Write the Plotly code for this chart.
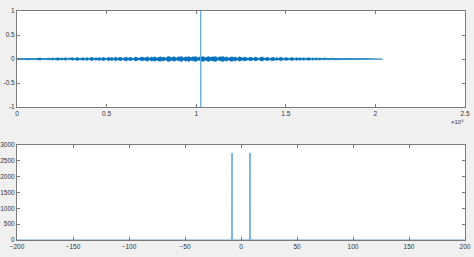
import plotly.graph_objects as go

# ---- top panel: time-domain signal, drawn as its envelope (dense samples) ----
env_step = 1000  # samples between envelope readings
env_vals = [
    0.008, 0.01, 0.008, 0.012, 0.008, 0.01, 0.015, 0.008, 0.01, 0.012,
    0.008, 0.015, 0.01, 0.02, 0.008, 0.012, 0.02, 0.01, 0.015, 0.01,
    0.022, 0.01, 0.012, 0.025, 0.01, 0.02, 0.01, 0.028, 0.012, 0.015,
    0.01, 0.025, 0.012, 0.02, 0.03, 0.01, 0.015, 0.025, 0.01, 0.03,
    0.012, 0.02, 0.035, 0.012, 0.025, 0.015, 0.03, 0.012, 0.035, 0.02,
    0.012, 0.035, 0.02, 0.03, 0.012, 0.04, 0.015, 0.03, 0.035, 0.012,
    0.03, 0.04, 0.015, 0.035, 0.025, 0.012, 0.04, 0.03, 0.015, 0.035,
    0.04, 0.02, 0.035, 0.045, 0.015, 0.04, 0.03, 0.045, 0.02, 0.04,
    0.045, 0.03, 0.04, 0.015, 0.045, 0.05, 0.025, 0.04, 0.045, 0.02,
    0.045, 0.04, 0.05, 0.02, 0.045, 0.035, 0.05, 0.025, 0.045, 0.04,
    0.05, 0.02, 0.045, 0.04, 0.05, 0.025, 0.045, 0.05, 0.03, 0.045,
    0.04, 0.05, 0.02, 0.045, 0.04, 0.05, 0.03, 0.045, 0.02, 0.04,
    0.045, 0.03, 0.04, 0.015, 0.045, 0.035, 0.02, 0.04, 0.03, 0.015,
    0.04, 0.035, 0.015, 0.04, 0.03, 0.012, 0.035, 0.04, 0.015, 0.03,
    0.035, 0.012, 0.03, 0.035, 0.015, 0.03, 0.012, 0.035, 0.025, 0.012,
    0.03, 0.02, 0.012, 0.03, 0.025, 0.012, 0.028, 0.015, 0.025, 0.012,
    0.025, 0.012, 0.02, 0.025, 0.01, 0.022, 0.012, 0.02, 0.01, 0.022,
    0.01, 0.018, 0.02, 0.01, 0.015, 0.02, 0.01, 0.015, 0.01, 0.018,
    0.01, 0.012, 0.015, 0.008, 0.012, 0.01, 0.008, 0.012, 0.008, 0.01,
    0.008, 0.01, 0.006, 0.008, 0.01, 0.006, 0.008, 0.006, 0.005, 0.006,
    0.005, 0.004, 0.004, 0.003, 0.003,
]
env_x = [i * env_step for i in range(len(env_vals))]

spike_x = [102450, 102500, 102550, 102600]
spike_y = [0.0, 1.0, -1.0, 0.0]

top_xticks = [0, 50000, 100000, 150000, 200000, 250000]
top_xtext = ["0", "0.5", "1", "1.5", "2", "2.5"]
top_yticks = [-1, -0.5, 0, 0.5, 1]
top_ytext = ["-1", "-0.5", "0", "0.5", "1"]

# ---- bottom panel: spectrum magnitude ----
freq = [-200, -8.9, -8.1, -8.0, -7.95, -7.2, 7.2, 7.95, 8.0, 8.1, 8.9, 200]
mag = [0, 0, 120, 2750, 120, 0, 0, 120, 2750, 120, 0, 0]

bot_xticks = [-200, -150, -100, -50, 0, 50, 100, 150, 200]
bot_yticks = [0, 500, 1000, 1500, 2000, 2500, 3000]

blue = "#0072BD"
axcol = "#7a7a7a"
fontcol = "#333333"
fnt = "Liberation Sans, Arial"

fig = go.Figure()
band_x = env_x + env_x[::-1]
band_y = env_vals + [-v for v in env_vals[::-1]]
fig.add_trace(go.Scatter(x=band_x, y=band_y, mode="lines", fill="toself",
                         fillcolor=blue, line=dict(color=blue, width=0.6),
                         xaxis="x", yaxis="y", showlegend=False, hoverinfo="skip"))
fig.add_trace(go.Scatter(x=spike_x, y=spike_y, mode="lines",
                         line=dict(color="#5fa6dc", width=0.9),
                         xaxis="x", yaxis="y", showlegend=False, hoverinfo="skip"))
fig.add_trace(go.Scatter(x=freq, y=mag, mode="lines",
                         line=dict(color="#3b8fd0", width=0.8),
                         xaxis="x2", yaxis="y2", showlegend=False, hoverinfo="skip"))

common = dict(showgrid=False, zeroline=False, showline=True, linecolor=axcol,
              linewidth=1, mirror="ticks", ticks="inside", ticklen=3,
              tickcolor=axcol, automargin=False,
              tickfont=dict(size=6.5, color=fontcol, family=fnt))

fig.update_layout(
    width=474, height=257,
    margin=dict(l=0, r=0, t=0, b=0),
    paper_bgcolor="#f0f0f0", plot_bgcolor="white",
    xaxis=dict(domain=[17 / 474, 465 / 474], range=[0, 250000],
               tickvals=top_xticks, ticktext=top_xtext, anchor="y", **common),
    yaxis=dict(domain=[1 - 107 / 257, 1 - 11 / 257], range=[-1, 1],
               tickvals=top_yticks, ticktext=top_ytext, anchor="x", **common),
    xaxis2=dict(domain=[17 / 474, 465 / 474], range=[-200, 200],
                tickvals=bot_xticks, anchor="y2", **common),
    yaxis2=dict(domain=[1 - 240 / 257, 1 - 145 / 257], range=[0, 3000],
                tickvals=bot_yticks, anchor="x2", **common),
    annotations=[dict(text="×10⁵", x=466 / 474, y=1 - 122 / 257,
                      xref="paper", yref="paper", xanchor="right", yanchor="middle",
                      showarrow=False, font=dict(size=6, color=fontcol, family=fnt))],
)

fig.write_html("out.html")
